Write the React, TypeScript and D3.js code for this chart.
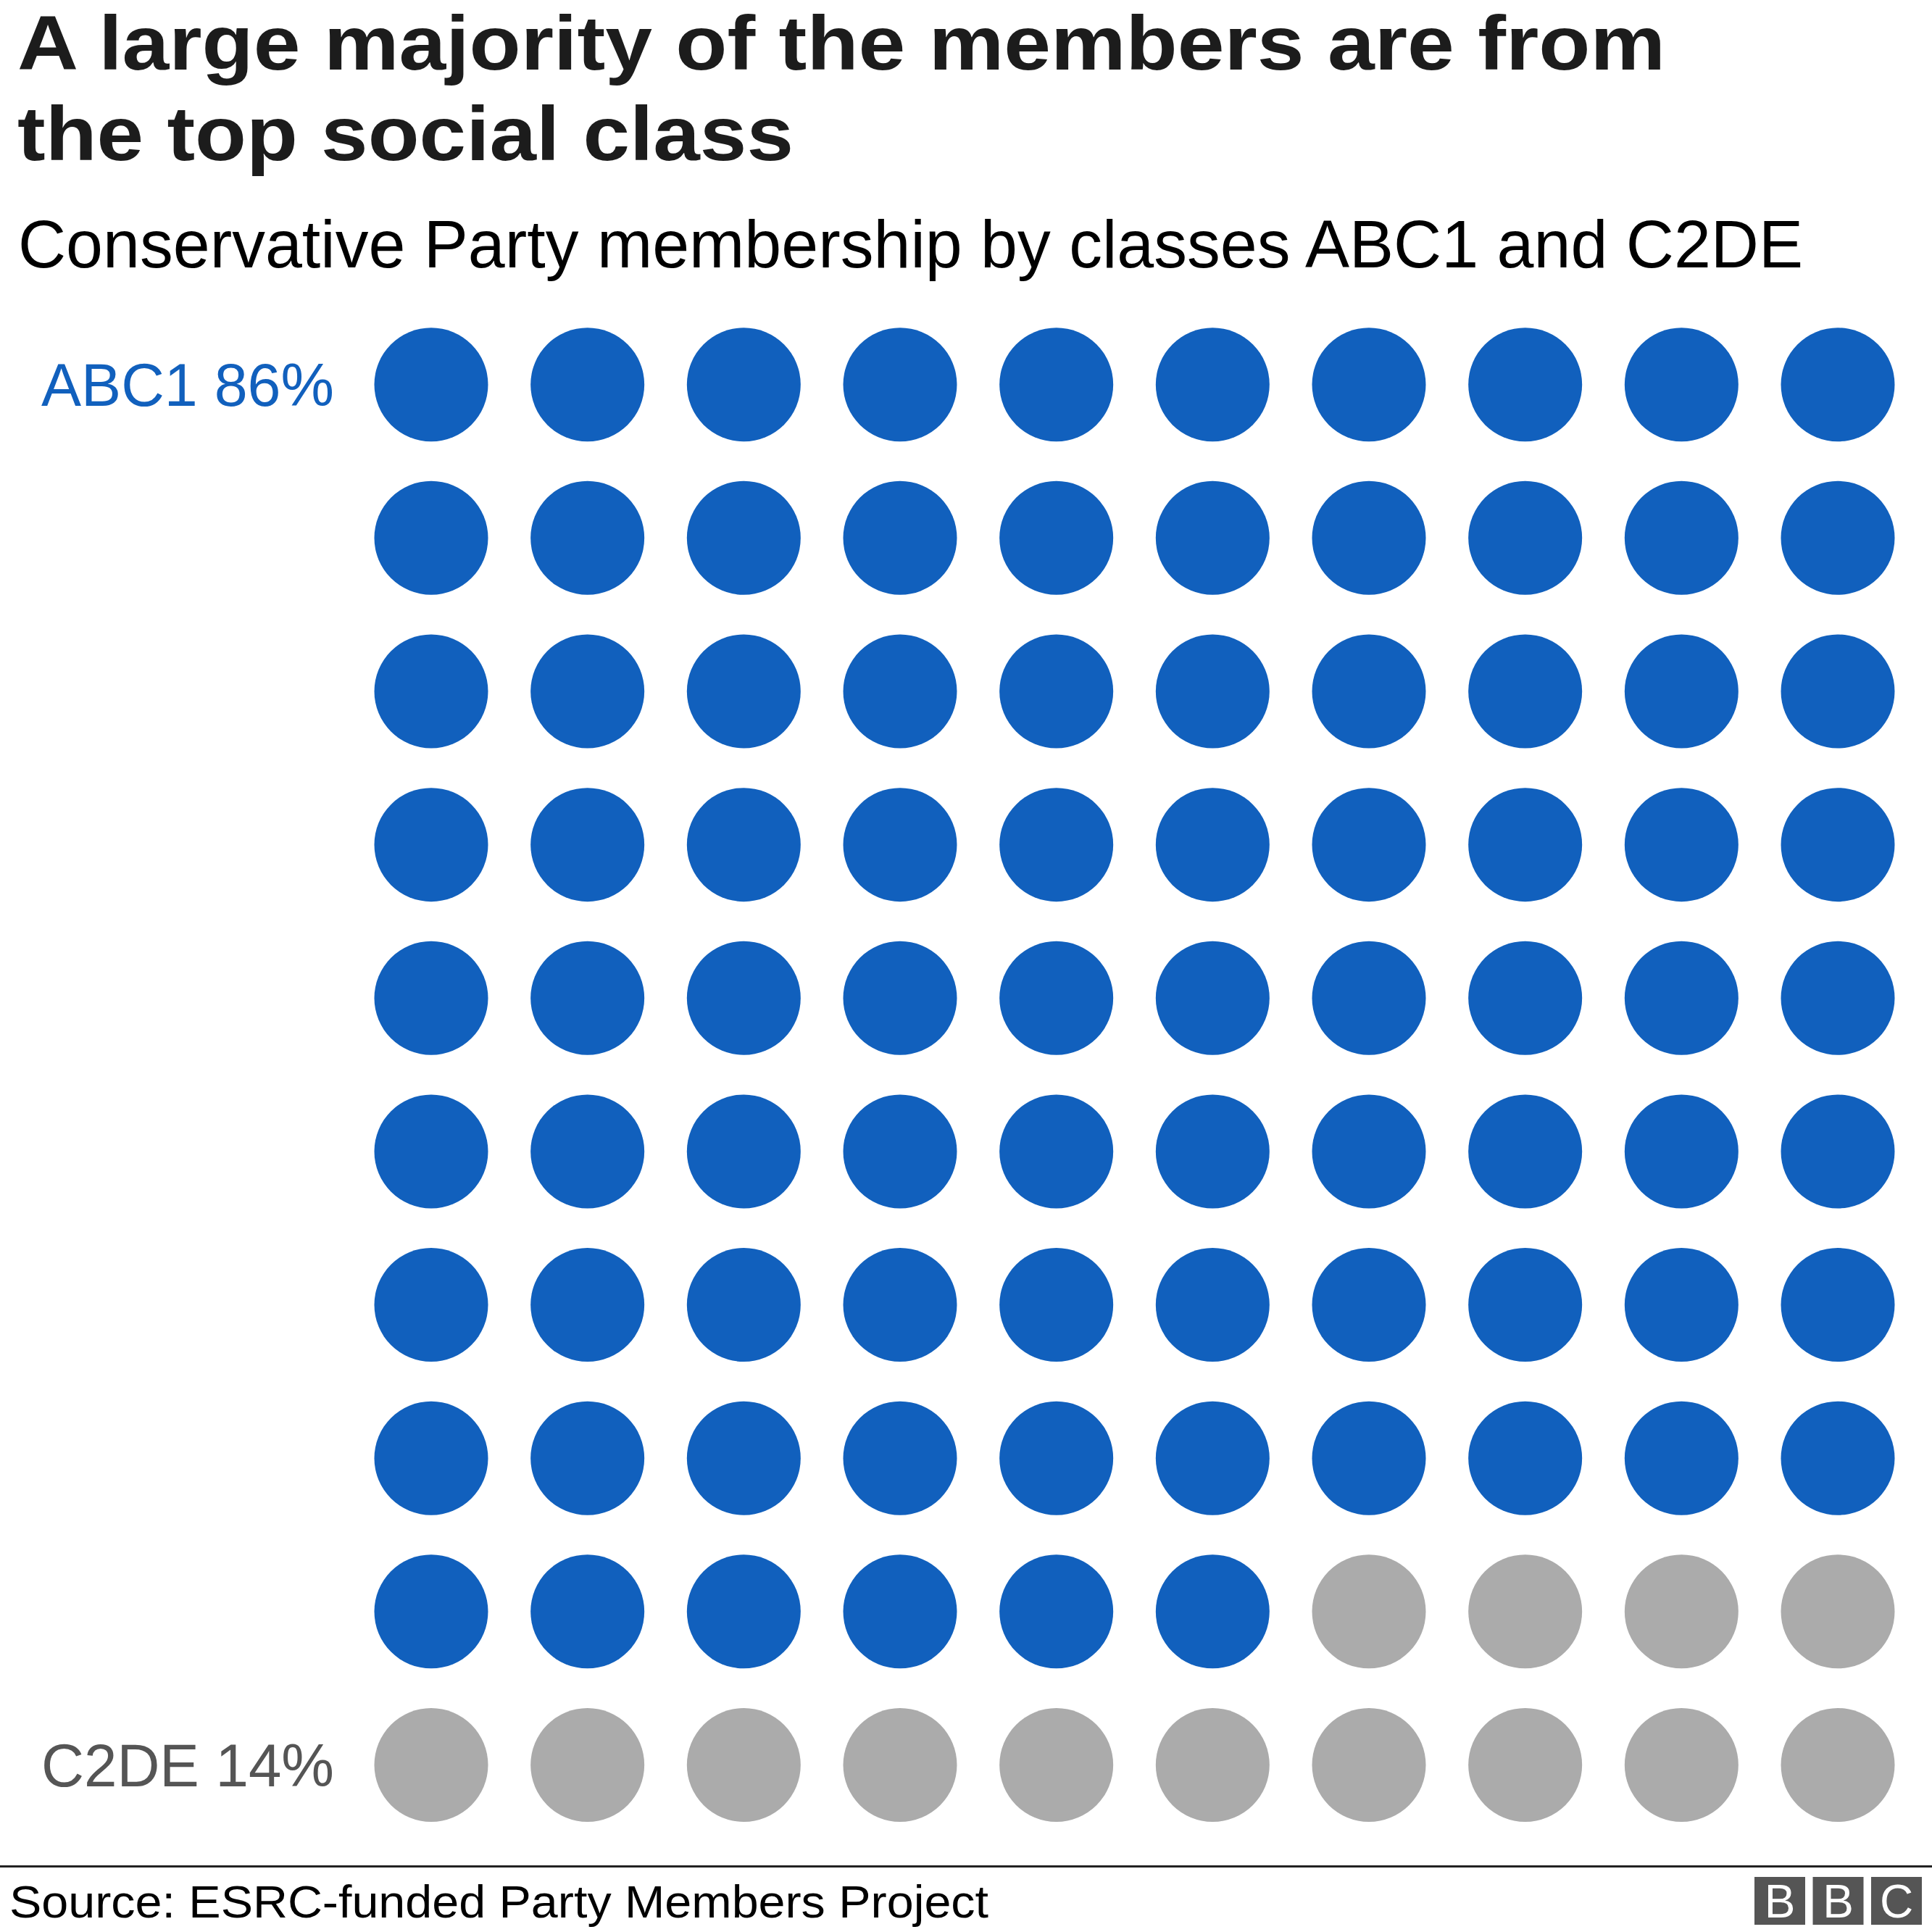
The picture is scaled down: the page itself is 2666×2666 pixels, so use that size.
import { useMemo } from "react";
import { range, scaleOrdinal, scalePoint } from "d3";

// waffle data: share of members per social class, out of 100 dots
const groups = ["ABC1", "C2DE"];
const shares = [86, 14];

const titleLines = [
  "A large majority of the members are from",
  "the top social class",
];
const subtitle = "Conservative Party membership by classes ABC1 and C2DE";
const source = "Source: ESRC-funded Party Members Project";

const WIDTH = 2666;
const HEIGHT = 2666;
const COLS = 10;
const ROWS = 10;
const FONT = "'Liberation Sans', Arial, Helvetica, sans-serif";

export default function App() {
  const computed = useMemo(() => {
    const xScale = scalePoint<number>()
      .domain(range(COLS))
      .range([595, 2536]);
    const yScale = scalePoint<number>()
      .domain(range(ROWS))
      .range([530.7, 2435.5]);

    const color = scaleOrdinal<string, string>()
      .domain(groups)
      .range(["#1160bd", "#ababab"]);
    const labelColor = scaleOrdinal<string, string>()
      .domain(groups)
      .range(["#1160bd", "#555555"]);

    // expand the shares into one dot per percent
    const owners: string[] = [];
    groups.forEach((g, gi) => {
      for (let k = 0; k < shares[gi]; k++) owners.push(g);
    });

    const dots = owners.map((g, i) => ({
      key: i,
      group: g,
      cx: xScale(i % COLS) ?? 0,
      cy: yScale(Math.floor(i / COLS)) ?? 0,
    }));

    // first group labelled on the top row, last group on the bottom row
    const labels = groups.map((g, gi) => {
      const row = gi === 0 ? 0 : ROWS - 1;
      return {
        group: g,
        text: `${g} ${shares[gi]}%`,
        y: (yScale(row) ?? 0) + 29,
        fill: labelColor(g),
      };
    });

    return { dots, labels, color };
  }, []);

  const { dots, labels, color } = computed;

  const logoLetters = ["B", "B", "C"];

  return (
    <svg
      width={WIDTH}
      height={HEIGHT}
      viewBox={`0 0 ${WIDTH} ${HEIGHT}`}
      style={{ position: "absolute", left: 0, top: 0, display: "block" }}
      fontFamily={FONT}
    >
      <rect width={WIDTH} height={HEIGHT} fill="#ffffff" />

      <text
        x={24}
        y={96}
        fontSize={106}
        fontWeight="bold"
        fill="#1c1c1c"
        textLength={2274}
        lengthAdjust="spacingAndGlyphs"
      >
        {titleLines[0]}
      </text>
      <text
        x={24}
        y={221}
        fontSize={106}
        fontWeight="bold"
        fill="#1c1c1c"
        textLength={1071}
        lengthAdjust="spacingAndGlyphs"
      >
        {titleLines[1]}
      </text>

      <text
        x={25}
        y={369}
        fontSize={92}
        fill="#000000"
        textLength={2463}
        lengthAdjust="spacingAndGlyphs"
      >
        {subtitle}
      </text>

      {labels.map((l) => (
        <text
          key={l.group}
          x={461}
          y={l.y}
          fontSize={83}
          fill={l.fill}
          textAnchor="end"
          textLength={404}
          lengthAdjust="spacingAndGlyphs"
        >
          {l.text}
        </text>
      ))}

      {dots.map((d) => (
        <circle key={d.key} cx={d.cx} cy={d.cy} r={78.5} fill={color(d.group)} />
      ))}

      <line x1={0} x2={WIDTH} y1={2575.5} y2={2575.5} stroke="#222" strokeWidth={3} />

      <text
        x={13}
        y={2646}
        fontSize={63}
        fill="#000000"
        textLength={1351}
        lengthAdjust="spacingAndGlyphs"
      >
        {source}
      </text>

      {logoLetters.map((ch, i) => (
        <g key={i} transform={`translate(${2421 + i * 80.5}, 2590)`}>
          <rect width={70} height={66} fill="#555555" />
          <text
            x={35}
            y={56}
            fontSize={64}
            fill="#ffffff"
            textAnchor="middle"
          >
            {ch}
          </text>
        </g>
      ))}
    </svg>
  );
}
